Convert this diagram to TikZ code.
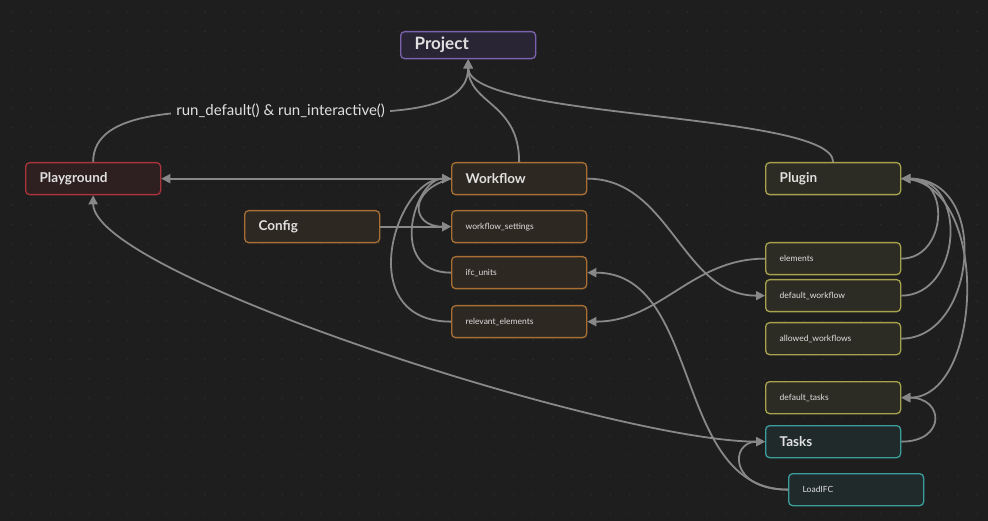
\documentclass[tikz,border=0pt]{standalone}
\usepackage{fontspec}
\setmainfont{Lato}
\usetikzlibrary{arrows.meta}
\definecolor{bg}{HTML}{1E1E1E}
\definecolor{dotc}{HTML}{2E2E2E}
\definecolor{edge}{HTML}{888888}
\definecolor{txt}{HTML}{E0E0E0}
\definecolor{prjline}{HTML}{7B62AE}
\definecolor{prjfill}{HTML}{2A2534}
\definecolor{pgline}{HTML}{A8353B}
\definecolor{pgfill}{HTML}{2E1F21}
\definecolor{wfline}{HTML}{A86F34}
\definecolor{wffill}{HTML}{2E2822}
\definecolor{plline}{HTML}{A6A24E}
\definecolor{plfill}{HTML}{2D2C24}
\definecolor{tkline}{HTML}{3A9E9C}
\definecolor{tkfill}{HTML}{212A2B}
\tikzset{
  card/.style={draw, rounded corners=4pt, line width=1.3pt, text width=107pt,
    inner xsep=14pt, inner ysep=0pt, minimum height=32pt, align=left,
    text=txt, anchor=north west},
  big/.style={card, font=\bfseries\fontsize{13.5}{15}\selectfont},
  small/.style={card, font=\fontsize{8.5}{10}\selectfont},
  prj/.style={draw=prjline, fill=prjfill},
  pg/.style={draw=pgline, fill=pgfill},
  wf/.style={draw=wfline, fill=wffill},
  pl/.style={draw=plline, fill=plfill},
  tk/.style={draw=tkline, fill=tkfill},
  arr/.style={draw=edge, line width=1.8pt, -{Triangle[length=9pt,width=9pt]}},
  both/.style={draw=edge, line width=1.8pt, {Triangle[length=9pt,width=9pt]}-{Triangle[length=9pt,width=9pt]}},
  lbl/.style={fill=bg, text=txt, inner xsep=5pt, inner ysep=2pt, font=\fontsize{15}{17}\selectfont}
}
\begin{document}
\begin{tikzpicture}[x=1pt, y=1pt]
\fill[bg] (0,0) rectangle (988,-521);
\useasboundingbox (0,0) rectangle (988,-521);
\foreach \i in {0,...,50}
  \foreach \j in {0,...,26}
    \fill[dotc] (12+\i*19.3, -12-\j*19.3) circle (0.8pt);
\node[big, prj, minimum height=27pt, font=\bfseries\fontsize{17}{19}\selectfont] (project) at (400,-31) {Project};
\node[big, pg] (playground) at (25,-162) {Playground};
\node[big, wf] (workflow) at (451,-162) {Workflow};
\node[big, pl] (plugin) at (765,-162) {Plugin};
\node[big, wf] (config) at (244,-210) {Config};
\node[small, wf] (settings) at (451,-210) {workflow\_settings};
\node[small, wf] (units) at (451,-256) {ifc\_units};
\node[small, wf] (relevant) at (451,-305) {relevant\_elements};
\node[small, pl] (elements) at (765,-242) {elements};
\node[small, pl] (defworkflow) at (765,-279) {default\_workflow};
\node[small, pl] (allowed) at (765,-322) {allowed\_workflows};
\node[small, pl] (deftasks) at (765,-381) {default\_tasks};
\node[big, tk] (tasks) at (765,-425) {Tasks};
\node[small, tk] (loadifc) at (788,-473) {LoadIFC};
% towards Project
\path[arr] (playground.north) to[out=90, in=-90, looseness=0.7] node[lbl] {run\_default() \& run\_interactive()} (project.south);
\path[arr] (workflow.north) to[out=90, in=-90, out distance=60pt, in distance=45pt] (project.south);
\path[arr] (plugin.north) to[out=90, in=-90, out distance=50pt, in distance=60pt] (project.south);
% workflow block
\path[both] (playground.east) -- (workflow.west);
\path[arr] (config.east) -- (settings.west);
\path[arr] (workflow.west) to[out=195, in=180, out distance=45pt, in distance=40pt] (settings.west);
\path[arr] (units.west) to[out=180, in=180, out distance=65pt, in distance=36pt] (workflow.west);
\path[arr] (relevant.west) to[out=180, in=180, out distance=100pt, in distance=55pt] (workflow.west);
\path[arr] (workflow.east) to[out=0, in=180] (defworkflow.west);
\path[arr] (elements.west) to[out=180, in=0] (relevant.east);
% tasks
\path[arr] (loadifc.west) to[out=180, in=0] (units.east);
\path[arr] (loadifc.west) to[out=180, in=180, out distance=60pt, in distance=35pt] (tasks.west);
\path[both] (playground.south) to[out=-90, in=180, out distance=80pt, in distance=150pt] (tasks.west);
% plugin block
\path[arr] (elements.east) to[out=0, in=0, out distance=45pt, in distance=50pt] (plugin.east);
\path[arr] (defworkflow.east) to[out=0, in=0, out distance=60pt, in distance=68pt] (plugin.east);
\path[arr] (allowed.east) to[out=0, in=0, out distance=75pt, in distance=90pt] (plugin.east);
\path[arr] (plugin.east) to[out=0, in=0, out distance=90pt, in distance=83pt] (deftasks.east);
\path[arr] (tasks.east) to[out=0, in=0, out distance=45pt, in distance=43pt] (deftasks.east);
\end{tikzpicture}
\end{document}
